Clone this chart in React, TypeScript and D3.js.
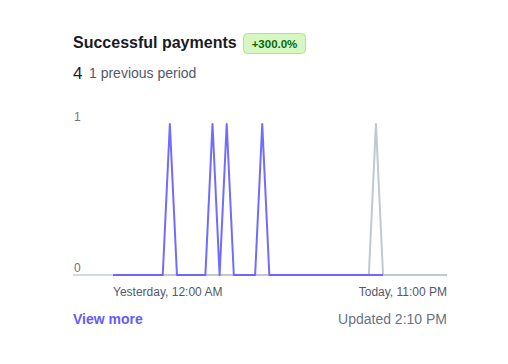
import React from "react";
import * as d3 from "d3";

const HOURS = [
  0, 1, 2, 3, 4, 5, 6, 7, 8, 9, 10, 11, 12, 13, 14, 15, 16, 17, 18, 19, 20, 21, 22, 23,
  24, 25, 26, 27, 28, 29, 30, 31, 32, 33, 34, 35, 36, 37, 38, 39, 40, 41, 42, 43, 44, 45, 46, 47,
];
// current period: up to now (today 2 PM)
const CURRENT = [
  0, 0, 0, 0, 0, 0, 0, 0, 1, 0, 0, 0, 0, 0, 1, 0, 1, 0, 0, 0, 0, 1, 0, 0,
  0, 0, 0, 0, 0, 0, 0, 0, 0, 0, 0, 0, 0, 0, 0,
];
const PREVIOUS = [
  0, 0, 0, 0, 0, 0, 0, 0, 0, 0, 0, 0, 0, 0, 0, 0, 0, 0, 0, 0, 0, 0, 0, 0,
  0, 0, 0, 0, 0, 0, 0, 0, 0, 0, 0, 0, 0, 1, 0, 0, 0, 0, 0, 0, 0, 0, 0, 0,
];
const Y_TICKS = [0, 1];
const X_LABELS = ["Yesterday, 12:00 AM", "Today, 11:00 PM"];

const FONT = "'Liberation Sans', Arial, sans-serif";

export default function App() {
  const width = 508;
  const height = 364;
  const left = 73;
  const right = 447;
  const plotLeft = 113;
  const top = 124;
  const bottom = 275;

  const x = d3.scaleLinear().domain([0, HOURS.length - 1]).range([plotLeft, right]);
  const y = d3.scaleLinear().domain([0, 1]).range([bottom, top]);

  const line = d3
    .line<number>()
    .x((_, i) => x(HOURS[i]))
    .y((d) => y(d));

  return (
    <svg
      width={width}
      height={height}
      style={{ position: "absolute", left: 0, top: 0, background: "#fff" }}
      fontFamily={FONT}
    >
      {/* header */}
      <text x={left} y={48} fontSize={16} fontWeight="bold" fill="#1a1b25">
        Successful payments
      </text>
      <rect x={243.5} y={33.5} width={62} height={20} rx={4} fill="#d7f7c2" stroke="#a6eb84" />
      <text x={274.5} y={48} fontSize={11.5} fontWeight="bold" fill="#05690d" textAnchor="middle">
        +300.0%
      </text>
      <text x={left} y={79} fontSize={17} fill="#1a1b25">
        4
      </text>
      <text x={89} y={78} fontSize={14} fill="#545969">
        1 previous period
      </text>

      {/* y ticks */}
      {Y_TICKS.map((t) => (
        <text key={t} x={left + 1} y={y(t) - 3} fontSize={12} fill="#6a7383">
          {t}
        </text>
      ))}

      {/* baseline */}
      <line x1={left} x2={right} y1={bottom} y2={bottom} stroke="#d5dbe1" strokeWidth={2} />
      {[0, HOURS.length - 1].map((h) => (
        <line key={h} x1={x(h)} x2={x(h)} y1={bottom} y2={bottom + 4} stroke="#ebeef1" strokeWidth={1} />
      ))}

      {/* series */}
      <path d={line(PREVIOUS) || ""} fill="none" stroke="#c0c8d2" strokeWidth={2} strokeLinejoin="round" />
      <path d={line(CURRENT) || ""} fill="none" stroke="#635bff" strokeOpacity={0.9} strokeWidth={2} strokeLinejoin="round" />

      {/* x labels */}
      <text x={plotLeft} y={296} fontSize={12} fill="#545969">
        {X_LABELS[0]}
      </text>
      <text x={right} y={296} fontSize={12} fill="#545969" textAnchor="end">
        {X_LABELS[1]}
      </text>

      {/* footer */}
      <text x={left} y={324} fontSize={14} fontWeight="bold" fill="#635bff">
        View more
      </text>
      <text x={right} y={324} fontSize={14} fill="#6a7383" textAnchor="end">
        Updated 2:10 PM
      </text>
    </svg>
  );
}
